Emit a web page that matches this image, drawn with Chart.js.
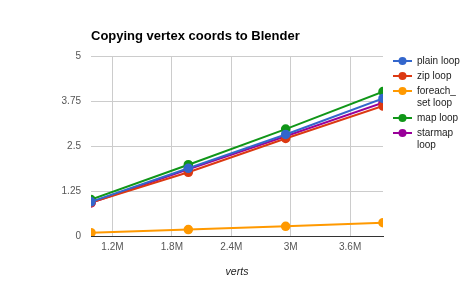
<!DOCTYPE html>
<html>
<head>
<meta charset="utf-8">
<script src="https://cdn.jsdelivr.net/npm/chart.js@4.4.1/dist/chart.umd.min.js"></script>
<style>
  html, body { margin: 0; padding: 0; background: #fff; }
  #wrap { width: 474px; height: 293px; }
</style>
</head>
<body>
<div id="wrap"><canvas id="chart" width="474" height="293"></canvas></div>
<script>
// vertex counts on the x axis
const verts = [983040, 1966080, 2949120, 3932160];
const xTicks = [1200000, 1800000, 2400000, 3000000, 3600000];
const yTicks = [0, 1.25, 2.5, 3.75, 5];

// seconds per approach
const plainLoop = [0.95, 1.88, 2.82, 3.82];
const zipLoop = [0.93, 1.77, 2.71, 3.61];
const foreachSetLoop = [0.09, 0.18, 0.27, 0.37];
const mapLoop = [1.01, 1.98, 2.97, 4.01];
const starmapLoop = [0.92, 1.85, 2.77, 3.70];

const seriesNames = ['plain loop', 'zip loop', 'foreach_set loop', 'map loop', 'starmap loop'];
const legendLines = [['plain loop'], ['zip loop'], ['foreach_', 'set loop'], ['map loop'], ['starmap', 'loop']];
const colors = ['#3366cc', '#dc3912', '#ff9900', '#109618', '#990099'];
const allValues = [plainLoop, zipLoop, foreachSetLoop, mapLoop, starmapLoop];

const FONT = 'Arial, "Liberation Sans", sans-serif';

const toPoints = (vals) => vals.map((v, i) => ({ x: verts[i], y: v }));

// title, axis title and the wrapped legend on the right
const decorations = {
  id: 'decorations',
  afterDraw(chart) {
    const ctx = chart.ctx;
    const area = chart.chartArea;
    ctx.save();
    ctx.fillStyle = '#000';
    ctx.font = 'bold 13px ' + FONT;
    ctx.textAlign = 'left';
    ctx.textBaseline = 'alphabetic';
    ctx.fillText('Copying vertex coords to Blender', area.left, 40);

    ctx.fillStyle = '#222';
    ctx.font = 'italic 10.5px ' + FONT;
    ctx.textAlign = 'center';
    ctx.textBaseline = 'middle';
    ctx.fillText('verts', (area.left + area.right) / 2, 272);

    ctx.font = '10px ' + FONT;
    ctx.textAlign = 'left';
    let y = 61;
    chart.data.datasets.forEach((ds, i) => {
      const c = ds.borderColor;
      ctx.strokeStyle = c;
      ctx.lineWidth = 2;
      ctx.beginPath();
      ctx.moveTo(393, y);
      ctx.lineTo(412, y);
      ctx.stroke();
      ctx.fillStyle = c;
      ctx.beginPath();
      ctx.arc(402.5, y, 4, 0, Math.PI * 2);
      ctx.fill();
      ctx.fillStyle = '#222';
      legendLines[i].forEach((line, j) => {
        ctx.fillText(line, 417, y + j * 12);
      });
      y += 3 + legendLines[i].length * 12;
    });
    ctx.restore();
  }
};

new Chart(document.getElementById('chart'), {
  type: 'line',
  data: {
    datasets: allValues.map((vals, i) => ({
      label: seriesNames[i],
      data: toPoints(vals),
      borderColor: colors[i],
      backgroundColor: colors[i],
      borderWidth: 2,
      pointRadius: 3.8,
      pointHoverRadius: 3.8,
      tension: 0,
    })),
  },
  options: {
    responsive: false,
    animation: false,
    layout: { padding: { left: 61, right: 91, top: 56, bottom: 0 } },
    plugins: {
      legend: { display: false },
      title: { display: false },
      tooltip: { enabled: false },
    },
    scales: {
      x: {
        type: 'linear',
        min: verts[0],
        max: verts[verts.length - 1],
        afterBuildTicks: (scale) => { scale.ticks = xTicks.map(v => ({ value: v })); },
        afterFit: (scale) => { scale.height = 57; },
        grid: { color: '#cccccc', drawTicks: false },
        border: { display: true, color: '#333333', width: 1 },
        ticks: {
          padding: 5,
          color: '#555',
          font: { family: FONT, size: 10 },
          maxRotation: 0,
          callback: (v) => (v / 1e6) + 'M',
        },
      },
      y: {
        min: 0,
        max: 5,
        afterBuildTicks: (scale) => { scale.ticks = yTicks.map(v => ({ value: v })); },
        afterFit: (scale) => { scale.width = 30; },
        grid: {
          color: (c) => (c.tick && c.tick.value === 0 ? '#333333' : '#cccccc'),
          drawTicks: false,
        },
        border: { display: false },
        ticks: {
          padding: 10,
          color: '#555',
          font: { family: FONT, size: 10 },
          callback: (v) => String(v),
        },
      },
    },
  },
  plugins: [decorations],
});
</script>
</body>
</html>
